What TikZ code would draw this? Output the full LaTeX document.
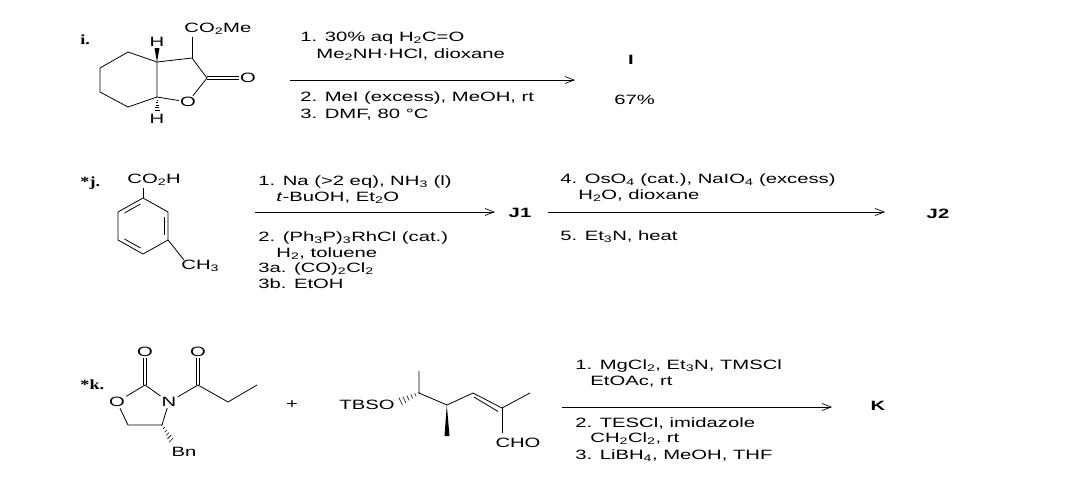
\documentclass[tikz,border=0pt]{standalone}
\usepackage{fontspec}
\setmainfont[FakeStretch=1.5]{Liberation Sans}
\newfontfamily\lab[FakeStretch=1.3]{Liberation Serif}
\usetikzlibrary{arrows.meta,calc}
\begin{document}
\begin{tikzpicture}[x=1pt,y=-1pt,line width=0.8pt,
  txt/.style={anchor=west,inner sep=0pt,font=\fontsize{13.5}{14}\selectfont},
  atom/.style={inner sep=1pt,font=\fontsize{13.5}{14}\selectfont},
  lbl/.style={anchor=west,inner sep=0pt,font=\lab\bfseries\fontsize{14}{14}\selectfont},
  prod/.style={inner sep=0pt,font=\bfseries\fontsize{13.5}{14}\selectfont},
  rxn/.style={-{Straight Barb[length=9pt,width=7pt]},line width=0.7pt}]
\path[use as bounding box] (0,0) rectangle (1080,483);
% ---------- i ----------
\node[lbl] (li) at (80,40) {i.};
\coordinate (a1) at (157,62); \coordinate (a2) at (128,52); \coordinate (a3) at (100,68);
\coordinate (a4) at (100,92); \coordinate (a5) at (128,107); \coordinate (a6) at (157,97);
\coordinate (c3) at (192,58); \coordinate (c2) at (207,78);
\node[atom] (oi) at (188,102) {O};
\node[atom] (oc) at (248,78) {O};
\node[atom] (h1) at (157,42) {H};
\node[atom] (h2) at (157,119) {H};
\node[atom,anchor=west] (co2me) at (183,29) {CO\textsubscript{2}Me};
\draw (a1)--(a2)--(a3)--(a4)--(a5)--(a6)--(a1);
\draw (a1)--(c3)--(c2)--(oi)--(a6);
\draw (c3)--(192,37);
\draw ($(c2)+(0,-1.8)$)--($(oc.west)+(0,-1.8)$);
\draw ($(c2)+(0,1.8)$)--($(oc.west)+(0,1.8)$);
\fill (a1) -- ($(h1.south)+(-2.5,0)$) -- ($(h1.south)+(2.5,0)$) -- cycle;
\foreach \t in {0,1,2,3,4}{\draw[line width=0.6pt] (157-0.5-\t*0.5,100+\t*2.5)--(157+0.5+\t*0.5,100+\t*2.5);}
\draw[rxn] (290,80)--(575,80);
\node[txt] (i1) at (300,38) {1. 30\% aq H\textsubscript{2}C=O};
\node[txt] (i2) at (316,55) {Me\textsubscript{2}NH·HCl, dioxane};
\node[txt] (i3) at (300,98) {2. MeI (excess), MeOH, rt};
\node[txt] (i4) at (300,115) {3. DMF, 80 °C};
\node[prod] (I) at (631,60) {I};
\node[txt] (y) at (614,100) {67\%};
% ---------- j ----------
\node[lbl] (lj) at (80,183) {*j.};
\coordinate (b1) at (143,198); \coordinate (b2) at (168,212); \coordinate (b3) at (168,240);
\coordinate (b4) at (143,254); \coordinate (b5) at (118,240); \coordinate (b6) at (118,212);
\draw (b1)--(b2)--(b3)--(b4)--(b5)--(b6)--cycle;
\draw ($(b2)!0.18!(b3)+(-4,0)$)--($(b3)!0.18!(b2)+(-4,0)$);
\draw ($(b4)!0.18!(b5)+(2,-3.5)$)--($(b5)!0.18!(b4)+(2,-3.5)$);
\draw ($(b6)!0.18!(b1)+(2,3.5)$)--($(b1)!0.18!(b6)+(2,3.5)$);
\node[atom,anchor=west] (co2h) at (126,180) {CO\textsubscript{2}H};
\node[atom,anchor=west] (ch3) at (180,266) {CH\textsubscript{3}};
\draw (b1)--(143,188);
\draw (b3)--(184,260);
\draw[rxn] (255,212)--(495,212);
\node[prod] (J1) at (520,213) {J1};
\node[txt] at (258,182) {1. Na (>2 eq), NH\textsubscript{3} (l)};
\node[txt] at (276,198) {\textit{t}-BuOH, Et\textsubscript{2}O};
\node[txt] at (258,238) {2. (Ph\textsubscript{3}P)\textsubscript{3}RhCl (cat.)};
\node[txt] at (276,254) {H\textsubscript{2}, toluene};
\node[txt] at (258,269) {3a. (CO)\textsubscript{2}Cl\textsubscript{2}};
\node[txt] at (258,284) {3b. EtOH};
\draw[rxn] (548,212)--(885,212);
\node[prod] (J2) at (938,214) {J2};
\node[txt] at (560,180) {4. OsO\textsubscript{4} (cat.), NaIO\textsubscript{4} (excess)};
\node[txt] at (578,196) {H\textsubscript{2}O, dioxane};
\node[txt] at (560,237) {5. Et\textsubscript{3}N, heat};
% ---------- k ----------
\node[lbl] (lk) at (80,385) {*k.};
\node[atom] (o1) at (117,402) {O};
\coordinate (k2) at (145,385);
\node[atom] (n) at (169,402) {N};
\coordinate (k4) at (162,425); \coordinate (k5) at (128,425);
\node[atom] (o2) at (145,352) {O};
\node[atom] (o3) at (198,352) {O};
\coordinate (k6) at (198,385); \coordinate (k7) at (228,402); \coordinate (k8) at (257,385);
\node[atom] (bn) at (184,452) {Bn};
\draw (o1)--(k2)--(n)--(k4)--(k5)--(o1);
\draw (n)--(k6)--(k7)--(k8);
\draw ($(k2)+(-1.8,0)$)--($(o2.south)+(-1.8,0)$);
\draw ($(k2)+(1.8,0)$)--($(o2.south)+(1.8,0)$);
\draw ($(k6)+(-1.8,0)$)--($(o3.south)+(-1.8,0)$);
\draw ($(k6)+(1.8,0)$)--($(o3.south)+(1.8,0)$);
\foreach \t in {0,...,5}{\draw[line width=0.6pt] ($(k4)!\t/6!(173,443)+(-0.4-\t*0.35,0.4+\t*0.35)$)--($(k4)!\t/6!(173,443)+(0.4+\t*0.35,-0.4-\t*0.35)$);}
\node[atom] (plus) at (292,405) {+};
\node[atom,anchor=east] (tbso) at (396,405) {TBSO};
\coordinate (m1) at (419,393); \coordinate (m0) at (419,371);
\coordinate (m2) at (447,405); \coordinate (m3) at (447,436);
\coordinate (m4) at (473,393); \coordinate (m5) at (502,408);
\coordinate (m6) at (530,393); \coordinate (m7) at (502,433);
\node[atom] (cho) at (518,443) {CHO};
\foreach \t in {0,...,5}{\draw[line width=0.6pt] ($(m1)!\t/6!(397,403)+(-0.3-\t*0.3,-0.7-\t*0.6)$)--($(m1)!\t/6!(397,403)+(0.3+\t*0.3,0.7+\t*0.6)$);}
\draw (m0)--(m1)--(m2)--(m4)--(m5)--(m6);
\draw (m5)--(m7);
\draw ($(m4)+(1,4)$)--($(m5)+(-4,3.5)$);
\fill (m2) ++(-0.2,0) -- ($(m3)+(-2.5,0)$) -- ($(m3)+(2.5,0)$) -- cycle;
\draw[rxn] (562,407)--(832,407);
\node[prod] (K) at (878,406) {K};
\node[txt] at (575,366) {1. MgCl\textsubscript{2}, Et\textsubscript{3}N, TMSCl};
\node[txt] at (590,382) {EtOAc, rt};
\node[txt] at (575,423) {2. TESCl, imidazole};
\node[txt] at (590,439) {CH\textsubscript{2}Cl\textsubscript{2}, rt};
\node[txt] at (575,456) {3. LiBH\textsubscript{4}, MeOH, THF};
\end{tikzpicture}
\end{document}
